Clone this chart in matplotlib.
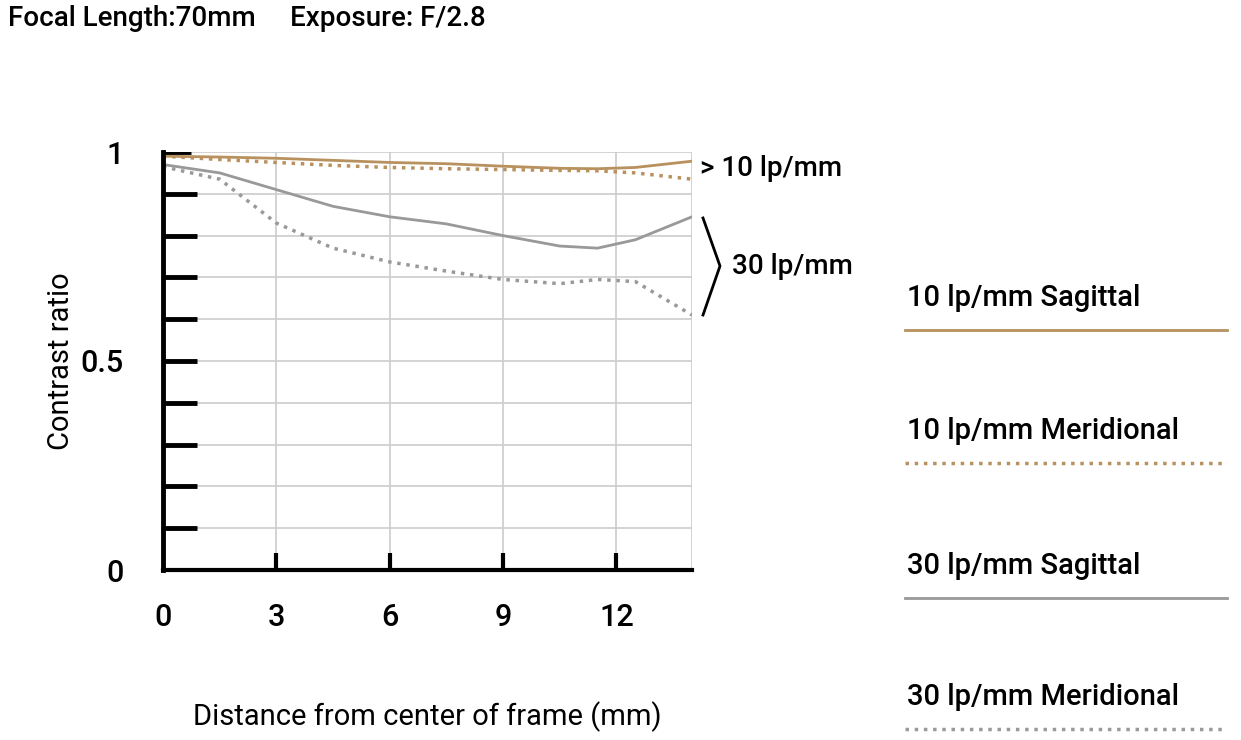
import matplotlib.pyplot as plt

# MTF data (distance in mm, contrast ratio)
dist = [0, 1.5, 3, 4.5, 6, 7.5, 9, 10.5, 11.5, 12.5, 14]
s10 = [0.99, 0.988, 0.985, 0.98, 0.975, 0.972, 0.966, 0.961, 0.960, 0.963, 0.978]
m10 = [0.99, 0.982, 0.975, 0.968, 0.963, 0.960, 0.958, 0.956, 0.955, 0.950, 0.935]
s30 = [0.97, 0.95, 0.91, 0.87, 0.845, 0.828, 0.80, 0.775, 0.77, 0.79, 0.845]
m30 = [0.965, 0.935, 0.83, 0.77, 0.737, 0.715, 0.695, 0.685, 0.695, 0.69, 0.61]

series = [('10 lp/mm Sagittal', s10, '#b8915f', '-'),
          ('10 lp/mm Meridional', m10, '#b8915f', ':'),
          ('30 lp/mm Sagittal', s30, '#999999', '-'),
          ('30 lp/mm Meridional', m30, '#999999', ':')]

plt.rcParams['font.family'] = ['Roboto', 'DejaVu Sans']
plt.rcParams['font.weight'] = 'medium'
W, H = 1241, 740
fig = plt.figure(figsize=(W / 100, H / 100), dpi=100)
ax = fig.add_axes([163 / W, 1 - 570 / H, (692 - 163) / W, (570 - 152) / H])

for label, vals, color, ls in series:
    ax.plot(dist, vals, color=color, ls=ls, lw=2.5 if ls == ':' else 2)

ax.set_xlim(0, 14)
ax.set_ylim(0, 1)
for v in [3, 6, 9, 12, 14]:
    ax.axvline(v, color='#cccccc', lw=1.2, zorder=0)
for i in range(1, 11):
    ax.axhline(i / 10, color='#cccccc', lw=1.2, zorder=0)
    if i < 10:
        ax.plot([0, 0.9], [i / 10, i / 10], color='black', lw=3.5, solid_capstyle='butt')
for v in [3, 6, 9, 12]:
    ax.plot([v, v], [0, 0.04], color='black', lw=3, solid_capstyle='butt')
ax.plot([0, 0.75], [1, 1], color='black', lw=3.5, solid_capstyle='butt')

for sp in ['top', 'right']:
    ax.spines[sp].set_visible(False)
ax.spines['left'].set_linewidth(3.5)
ax.spines['bottom'].set_linewidth(3)
ax.set_xticks([0, 3, 6, 9, 12])
ax.set_yticks([0, 0.5, 1])
ax.set_yticklabels(['0', '0.5', '1'])
ax.tick_params(length=0, labelsize=22)
ax.tick_params(axis='x', pad=24)
ax.tick_params(axis='y', pad=28)
ax.set_xlabel('Distance from center of frame (mm)', fontsize=21, labelpad=50)
ax.set_ylabel('Contrast ratio', fontsize=21, labelpad=4)

fig.text(8 / W, 1 - 18 / H, 'Focal Length:70mm     Exposure: F/2.8', fontsize=20, va='center')

# brace annotations
fig.text(700 / W, 1 - 168 / H, '> 10 lp/mm', fontsize=20, va='center')
fig.lines.append(plt.Line2D([703 / W, 720 / W, 703 / W],
                            [1 - 218 / H, 1 - 266 / H, 1 - 315 / H],
                            transform=fig.transFigure, color='black', lw=2))
fig.text(732 / W, 1 - 266 / H, '30 lp/mm', fontsize=20, va='center')

# legend at right
ys = [298, 431, 566, 697]
for (label, vals, color, ls), y in zip(series, ys):
    fig.text(907 / W, 1 - y / H, label, fontsize=21, va='center')
    fig.lines.append(plt.Line2D([905 / W, 1227 / W], [1 - (y + 32) / H] * 2,
                                transform=fig.transFigure, color=color, ls=ls,
                                lw=2.5 if ls == ':' else 2))

fig.savefig('out.png', dpi=100)
